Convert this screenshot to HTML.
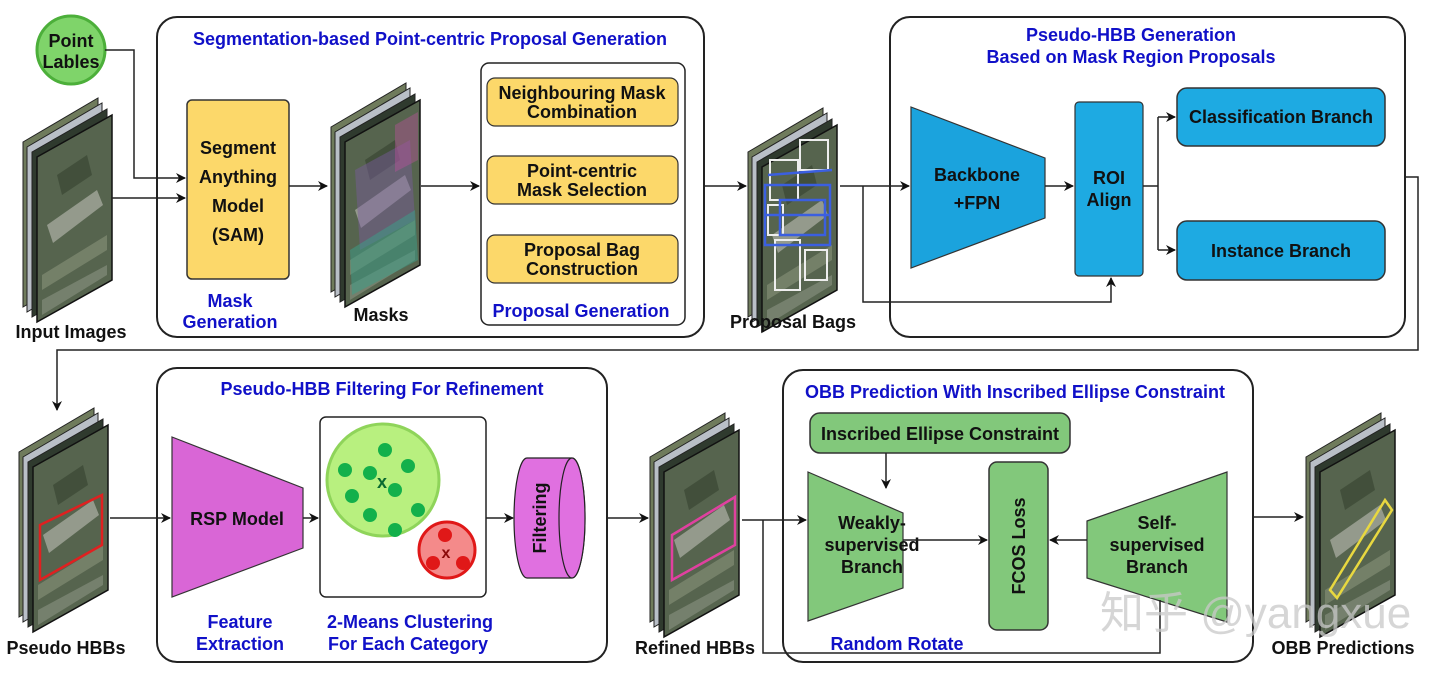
<!DOCTYPE html>
<html><head><meta charset="utf-8"><style>
html,body{margin:0;padding:0;background:#fff;}
svg{display:block;font-family:"Liberation Sans","Noto Sans CJK SC",sans-serif;font-weight:bold;}
.b{fill:#1010c8;font-size:18px;text-anchor:middle;}
.k{fill:#111;font-size:18px;text-anchor:middle;}
.ln{stroke:#222;stroke-width:1.5;fill:none;}
</style></head><body>
<svg width="1440" height="679" viewBox="0 0 1440 679" xmlns="http://www.w3.org/2000/svg">
<defs>
<marker id="a" markerWidth="10" markerHeight="10" refX="9" refY="5" orient="auto" markerUnits="userSpaceOnUse"><path d="M0,0 L10,5 L0,10 L3,5 z" fill="#111"/></marker>
<g id="stk">
<polygon points="-14,27 61,-17 61,148 -14,192" fill="#6f7b5c" stroke="#222" stroke-width="1"/>
<polygon points="-10,32 65,-12 65,153 -10,197" fill="#b9bfc7" stroke="#222" stroke-width="1"/>
<polygon points="-5,37 70,-6 70,159 -5,202" fill="#2f3a2e" stroke="#222" stroke-width="1"/>
<polygon points="0,42 75,0 75,165 0,207" fill="#56644e" stroke="#111" stroke-width="1.5"/>
<polygon points="10,110 60,75 66,90 16,128" fill="#a4a89c" opacity="0.8"/>
<polygon points="5,160 70,120 70,135 5,175" fill="#818c74" opacity="0.7"/>
<polygon points="20,60 50,40 55,60 25,80" fill="#3d4a37" opacity="0.8"/>
<polygon points="5,185 70,150 70,160 5,200" fill="#8a9282" opacity="0.6"/>
</g>
</defs>

<!-- Row 1 -->
<circle cx="71" cy="50" r="34" fill="#7fd46a" stroke="#4caf3a" stroke-width="3"/>
<text class="k" x="71" y="47" font-size="18">Point</text>
<text class="k" x="71" y="68" font-size="18">Lables</text>

<use href="#stk" x="37" y="115"/>
<text class="k" x="71" y="338">Input  Images</text>

<rect x="157" y="17" width="547" height="320" rx="20" fill="#fff" stroke="#222" stroke-width="2"/>
<text class="b" x="430" y="45">Segmentation-based Point-centric Proposal Generation</text>
<rect x="187" y="100" width="102" height="179" rx="5" fill="#fcd86a" stroke="#333" stroke-width="1.5"/>
<text class="k" x="238" y="154">Segment</text>
<text class="k" x="238" y="183">Anything</text>
<text class="k" x="238" y="212">Model</text>
<text class="k" x="238" y="241">(SAM)</text>
<text class="b" x="230" y="307">Mask</text>
<text class="b" x="230" y="328">Generation</text>

<use href="#stk" x="345" y="100"/>
<polygon points="355,170 410,140 415,220 360,250" fill="#7a5ca0" opacity="0.45"/>
<polygon points="350,250 415,210 418,260 352,295" fill="#3aa08a" opacity="0.5"/>
<polygon points="395,125 418,112 418,160 395,172" fill="#c050a0" opacity="0.4"/>
<text class="k" x="381" y="321">Masks</text>

<rect x="481" y="63" width="204" height="262" rx="8" fill="#fff" stroke="#222" stroke-width="1.5"/>
<rect x="487" y="78" width="191" height="48" rx="8" fill="#fcd86a" stroke="#333" stroke-width="1.2"/>
<text class="k" x="582" y="99" font-size="16">Neighbouring Mask</text>
<text class="k" x="582" y="118" font-size="16">Combination</text>
<rect x="487" y="156" width="191" height="48" rx="8" fill="#fcd86a" stroke="#333" stroke-width="1.2"/>
<text class="k" x="582" y="177" font-size="16">Point-centric</text>
<text class="k" x="582" y="196" font-size="16">Mask Selection</text>
<rect x="487" y="235" width="191" height="48" rx="8" fill="#fcd86a" stroke="#333" stroke-width="1.2"/>
<text class="k" x="582" y="256" font-size="16">Proposal Bag</text>
<text class="k" x="582" y="275" font-size="16">Construction</text>
<text class="b" x="581" y="317">Proposal Generation</text>

<use href="#stk" x="762" y="125"/>
<g stroke="#eee" stroke-width="2" fill="none"><rect x="770" y="160" width="28" height="40"/><rect x="800" y="140" width="28" height="30"/><rect x="775" y="240" width="25" height="50"/><rect x="805" y="250" width="22" height="30"/><rect x="768" y="205" width="15" height="30"/></g>
<g stroke="#3b5fe0" stroke-width="2.5" fill="none"><rect x="765" y="185" width="65" height="60"/><rect x="780" y="200" width="45" height="35"/><line x1="765" y1="215" x2="830" y2="215"/><line x1="768" y1="175" x2="832" y2="170"/></g>
<text class="k" x="793" y="328">Proposal Bags</text>

<rect x="890" y="17" width="515" height="320" rx="20" fill="#fff" stroke="#222" stroke-width="2"/>
<text class="b" x="1131" y="41">Pseudo-HBB Generation</text>
<text class="b" x="1131" y="63">Based on Mask Region Proposals</text>
<polygon points="911,107 1045,158 1045,218 911,268" fill="#1ba3dd" stroke="#333" stroke-width="1.2"/>
<text class="k" x="977" y="181">Backbone</text>
<text class="k" x="977" y="209">+FPN</text>
<rect x="1075" y="102" width="68" height="174" rx="4" fill="#1eaae2" stroke="#333" stroke-width="1.2"/>
<text class="k" x="1109" y="184">ROI</text>
<text class="k" x="1109" y="206">Align</text>
<rect x="1177" y="88" width="208" height="58" rx="10" fill="#1eaae2" stroke="#333" stroke-width="1.5"/>
<text class="k" x="1281" y="123">Classification Branch</text>
<rect x="1177" y="221" width="208" height="59" rx="10" fill="#1eaae2" stroke="#333" stroke-width="1.5"/>
<text class="k" x="1281" y="257">Instance Branch</text>

<!-- row1 connectors -->
<path class="ln" d="M105,50 H134 V178 H185" marker-end="url(#a)"/>
<path class="ln" d="M112,198 H185" marker-end="url(#a)"/>
<path class="ln" d="M289,186 H327" marker-end="url(#a)"/>
<path class="ln" d="M421,186 H479" marker-end="url(#a)"/>
<path class="ln" d="M704,186 H746" marker-end="url(#a)"/>
<path class="ln" d="M840,186 H909" marker-end="url(#a)"/>
<path class="ln" d="M863,186 V302 H1111 V278" marker-end="url(#a)"/>
<path class="ln" d="M1045,186 H1073" marker-end="url(#a)"/>
<path class="ln" d="M1143,186 H1158 M1158,117 V250"/>
<path class="ln" d="M1158,117 H1175" marker-end="url(#a)"/>
<path class="ln" d="M1158,250 H1175" marker-end="url(#a)"/>
<path class="ln" d="M1405,177 H1418 V350 H57 V410" marker-end="url(#a)"/>

<!-- Row 2 -->
<use href="#stk" x="33" y="425"/>
<polygon points="40,525 102,495 102,545 40,580" fill="none" stroke="#e02020" stroke-width="2.5"/>
<text class="k" x="66" y="654">Pseudo HBBs</text>

<rect x="157" y="368" width="450" height="294" rx="20" fill="#fff" stroke="#222" stroke-width="2"/>
<text class="b" x="382" y="395">Pseudo-HBB Filtering For Refinement</text>
<polygon points="172,437 303,488 303,548 172,597" fill="#d966d6" stroke="#333" stroke-width="1.2"/>
<text class="k" x="237" y="525">RSP Model</text>
<rect x="320" y="417" width="166" height="180" rx="6" fill="#fff" stroke="#222" stroke-width="1.5"/>
<circle cx="383" cy="480" r="56" fill="#b8f07f" stroke="#8fd45a" stroke-width="3"/>
<g fill="#13b04b"><circle cx="385" cy="450" r="7"/><circle cx="345" cy="470" r="7"/><circle cx="370" cy="473" r="7"/><circle cx="408" cy="466" r="7"/><circle cx="352" cy="496" r="7"/><circle cx="395" cy="490" r="7"/><circle cx="370" cy="515" r="7"/><circle cx="418" cy="510" r="7"/><circle cx="395" cy="530" r="7"/></g>
<text x="382" y="488" font-size="18" fill="#0a6a30" text-anchor="middle">x</text>
<circle cx="447" cy="550" r="28" fill="#f48a8a" stroke="#e01818" stroke-width="3"/>
<g fill="#e01818"><circle cx="445" cy="535" r="7"/><circle cx="433" cy="563" r="7"/><circle cx="463" cy="563" r="7"/></g>
<text x="446" y="558" font-size="16" fill="#8a0a0a" text-anchor="middle">x</text>
<text class="b" x="240" y="628">Feature</text>
<text class="b" x="240" y="650">Extraction</text>
<text class="b" x="410" y="628">2-Means Clustering</text>
<text class="b" x="408" y="650">For Each Category</text>
<path d="M527,458 H572 A13,60 0 0 1 572,578 H527 A13,60 0 0 1 527,458 z" fill="#e070e0" stroke="#222" stroke-width="1.2"/>
<ellipse cx="572" cy="518" rx="13" ry="60" fill="#e070e0" stroke="#222" stroke-width="1.2"/>
<text class="k" x="0" y="0" transform="translate(546,518) rotate(-90)" font-size="18">Filtering</text>

<use href="#stk" x="664" y="430"/>
<polygon points="672,535 735,497 735,545 672,580" fill="none" stroke="#e040a0" stroke-width="2.5"/>
<text class="k" x="695" y="654">Refined HBBs</text>

<rect x="783" y="370" width="470" height="292" rx="20" fill="#fff" stroke="#222" stroke-width="2"/>
<text class="b" x="1015" y="398">OBB Prediction With Inscribed Ellipse Constraint</text>
<rect x="810" y="413" width="260" height="40" rx="10" fill="#82c87b" stroke="#333" stroke-width="1.5"/>
<text class="k" x="940" y="440">Inscribed Ellipse Constraint</text>
<polygon points="808,472 903,513 903,588 808,621" fill="#82c87b" stroke="#333" stroke-width="1.2"/>
<text class="k" x="872" y="529">Weakly-</text>
<text class="k" x="872" y="551">supervised</text>
<text class="k" x="872" y="573">Branch</text>
<rect x="989" y="462" width="59" height="168" rx="8" fill="#82c87b" stroke="#333" stroke-width="1.5"/>
<text class="k" x="0" y="0" transform="translate(1025,546) rotate(-90)">FCOS Loss</text>
<polygon points="1087,521 1227,472 1227,622 1087,578" fill="#82c87b" stroke="#333" stroke-width="1.2"/>
<text class="k" x="1157" y="529">Self-</text>
<text class="k" x="1157" y="551">supervised</text>
<text class="k" x="1157" y="573">Branch</text>
<text class="b" x="897" y="650">Random Rotate</text>

<use href="#stk" x="1320" y="430"/>
<polygon points="1330,590 1385,500 1392,510 1337,598 z" fill="none" stroke="#e8d840" stroke-width="2.5"/>
<text class="k" x="1343" y="654">OBB Predictions</text>

<!-- row2 connectors -->
<path class="ln" d="M110,518 H170" marker-end="url(#a)"/>
<path class="ln" d="M303,518 H318" marker-end="url(#a)"/>
<path class="ln" d="M486,518 H513" marker-end="url(#a)"/>
<path class="ln" d="M607,518 H648" marker-end="url(#a)"/>
<path class="ln" d="M742,520 H806" marker-end="url(#a)"/>
<path class="ln" d="M763,520 V653 H1160 V600"/>
<path class="ln" d="M886,453 V488" marker-end="url(#a)"/>
<path class="ln" d="M903,540 H987" marker-end="url(#a)"/>
<path class="ln" d="M1087,540 H1050" marker-end="url(#a)"/>
<path class="ln" d="M1253,517 H1303" marker-end="url(#a)"/>

<text x="1100" y="628" font-size="44" font-weight="normal" fill="#c8c8c8" fill-opacity="0.75" style="font-family:'Liberation Sans','Noto Sans CJK SC',sans-serif">知乎 @yangxue</text>
</svg>
</body></html>
